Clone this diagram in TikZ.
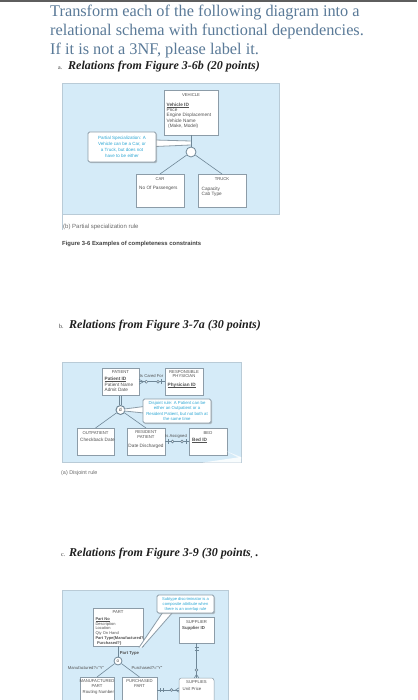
\documentclass[tikz,border=0pt]{standalone}
\usepackage{fontspec}
\setmainfont{Liberation Serif}
\newfontfamily\dsans{Liberation Sans}
\usetikzlibrary{calc,shadows}
\definecolor{titlec}{HTML}{5A7A98}
\definecolor{topbar}{HTML}{5E5E5E}
\definecolor{bgblue}{HTML}{D5EBF8}
\definecolor{bgedge}{HTML}{B9CBD7}
\definecolor{boxedge}{HTML}{8C9CA8}
\definecolor{linec}{HTML}{6F8797}
\definecolor{callc}{HTML}{2BA6D4}
\definecolor{dtext}{HTML}{505050}
\definecolor{captc}{HTML}{6A6A6A}
\newcommand\dfnt{\dsans\fontsize{4.7}{5.4}\selectfont}
\newcommand\efnt{\dsans\fontsize{4.2}{4.8}\selectfont}
\newcommand\cfnt{\dsans\fontsize{4.5}{5.9}\selectfont}
\newcommand\ulx[1]{\setbox0\hbox{#1}\rlap{\vrule width\wd0 height-0.5pt depth0.78pt}\box0}
\tikzset{
  panel/.style={fill=bgblue, draw=bgedge, line width=0.6pt, inner sep=0pt, outer sep=0pt, anchor=north west},
  ent/.style={fill=white, draw=boxedge, line width=0.5pt, inner sep=0pt, outer sep=0pt, anchor=north west},
  assoc/.style={ent, rounded corners=2.5pt},
  callbox/.style={fill=white, draw=boxedge, line width=0.9pt, rounded corners=1.5pt, inner sep=0pt, outer sep=0pt, anchor=north west,
     drop shadow={shadow xshift=1.2pt, shadow yshift=-1.2pt, opacity=0.45}},
  dt/.style={font=\dfnt, text=dtext, inner sep=0pt},
  et/.style={font=\efnt, text=dtext, inner sep=0pt},
  ct/.style={font=\cfnt, text=callc, inner sep=0pt, align=center},
  conn/.style={draw=linec, line width=0.6pt},
  ptr/.style={draw=boxedge, line width=0.8pt},
  circ/.style={circle, fill=white, draw=linec, line width=0.8pt, minimum size=9pt, inner sep=0pt, font=\dfnt, text=dtext},
  titl/.style={font=\fontsize{16.3}{19}\selectfont, text=titlec, inner sep=0pt, anchor=base west},
  head/.style={font=\fontsize{12}{14}\selectfont\bfseries\itshape, text=black!88, inner sep=0pt, anchor=base west},
  hmark/.style={font=\fontsize{6}{7}\selectfont, text=black!80, inner sep=0pt, anchor=base west},
  capt/.style={font=\dsans\fontsize{6}{7}\selectfont, text=captc, inner sep=0pt, anchor=base west},
}
\begin{document}
\begin{tikzpicture}[x=1pt,y=-1pt]
\useasboundingbox (0,0) rectangle (417,700);
\fill[white] (0,0) rectangle (417,700);
\begin{scope}
\clip (0,0) rectangle (417,700);
\fill[topbar] (0,0) rectangle (417,2.2);

% ---------- title ----------
\node[titl] (t1) at (50,17) {Transform each of the following diagram into a};
\node[titl] (t2) at (50,36) {relational schema with functional dependencies.};
\node[titl] (t3) at (50,55) {If it is not a 3NF, please label it.};

% ---------- a ----------
\node[hmark] (ma) at (58,70) {a.};
\node[head] (ha) at (68,70) {Relations from Figure 3-6b (20 points)};

\node[panel, minimum width=217pt, minimum height=131pt] (p1) at (62,83) {};
\node[ent, minimum width=54pt, minimum height=45pt] (veh) at (164,90) {};
\node[et] (vehT) at (191,95) {VEHICLE};
\node[dt, anchor=north west, align=left] (vehA) at (166.5,102.5)
  {\textbf{\ulx{Vehicle ID}}\\Price\\Engine Displacement\\Vehicle Name\\\hspace*{1.5pt}(Make, Model)};

\node[ent, minimum width=48pt, minimum height=33pt] (car) at (136,174) {};
\node[et] (carT) at (160,179) {CAR};
\node[dt, anchor=west] (carA) at (139,188.5) {No Of Passengers};
\node[ent, minimum width=48pt, minimum height=33pt] (trk) at (198,174) {};
\node[et] (trkT) at (222,179) {TRUCK};
\node[dt, anchor=north west, align=left] (trkA) at (201.5,186.5) {Capacity\\Cab Type};

\node[circ, minimum size=10pt] (c1) at (191,152) {};
\draw[conn] (veh.south) -- (c1.north);
\draw[conn] (c1) -- (car.north);
\draw[conn] (c1) -- (trk.north);

\fill[white] (155,140) -- (190.6,141) -- (190.6,145) -- (155,146.5) -- cycle;
\draw[ptr] (155,140) -- (190.6,141) (155,146.5) -- (190.6,145);
\node[callbox, minimum width=68pt, minimum height=30pt] (cal1) at (88,132) {};
\node[ct] (cal1T) at (cal1.center) {Partial Specialization: A\\Vehicle can be a Car, or\\a Truck, but does not\\have to be either};

\draw[draw=bgedge, line width=0.5pt] (p1.south west) -- ++(0,16);
\node[capt] (capa) at (63,229) {(b) Partial specialization rule};
\node[capt, font=\dsans\bfseries\fontsize{5.9}{7}\selectfont, text=black!75] (figa) at (62,246) {Figure 3-6 Examples of completeness constraints};

% ---------- b ----------
\node[hmark] (mb) at (59,328) {b.};
\node[head] (hb) at (69,328) {Relations from Figure 3-7a (30 points)};

\node[panel, minimum width=179pt, minimum height=100pt] (p2) at (62,362) {};
\node[ent, minimum width=37pt, minimum height=27.5pt] (pat) at (102,368) {};
\node[et] (patT) at (120.5,372.5) {PATIENT};
\node[dt, anchor=north west, align=left] (patA) at (104.5,377.3) {\textbf{\ulx{Patient ID}}\\Patient Name\\Admit Date};
\node[ent, minimum width=38pt, minimum height=27.5pt] (phy) at (165,368) {};
\node[et, align=center, anchor=north] (phyT) at (184,370) {RESPONSIBLE\\PHYSICIAN};
\node[dt, anchor=west] (phyA) at (167.5,385) {\textbf{\ulx{Physician ID}}};

\draw[conn] (pat.east) -- (phy.west);
\node[et] (lcf) at (151.5,376) {Is Cared For};
\draw[conn] (143.5,381.75) -- (139,379.3) (143.5,381.75) -- (139,384.2);
\draw[conn, fill=white] (146.3,381.75) circle (1.4pt);
\draw[conn, fill=white] (158,381.75) circle (1.4pt);
\draw[conn] (161.5,379.4) -- (161.5,384.1);

\node[ent, minimum width=37pt, minimum height=27pt] (out) at (77,428) {};
\node[et] (outT) at (95.5,433) {OUTPATIENT};
\node[dt, anchor=west] (outA) at (80,440) {Checkback Date};
\node[ent, minimum width=38pt, minimum height=27pt] (res) at (127,428) {};
\node[et, align=center, anchor=north] (resT) at (146,430.5) {RESIDENT\\PATIENT};
\node[dt] (resA) at (146,446) {Date Discharged};
\node[ent, minimum width=38pt, minimum height=27pt] (bed) at (189,428) {};
\node[et] (bedT) at (208,433) {BED};
\node[dt, anchor=west] (bedA) at (192,440) {\textbf{\ulx{Bed ID}}};

\draw[conn] (res.east) -- (bed.west);
\node[et] (lia) at (176,436) {Is Assigned};
\draw[conn] (168.5,439.3) -- (168.5,444);
\draw[conn, fill=white] (172.5,441.5) circle (1.4pt);
\draw[conn, fill=white] (182,441.5) circle (1.4pt);
\draw[conn] (186,439.3) -- (186,444);

\node[circ, line width=1pt, text=black!80] (c2) at (120.5,410) {d};
\draw[conn] ($(pat.south)+(-1.2,0)$) -- ($(c2.north)+(-1.2,0.3)$);
\draw[conn] ($(pat.south)+(1.2,0)$) -- ($(c2.north)+(1.2,0.3)$);
\draw[conn] (c2) -- (out.north);
\draw[conn] (c2) -- (res.north);

\fill[white] (144,406.5) -- (124.5,409) -- (124.5,411) -- (144,413) -- cycle;
\draw[ptr] (144,406.5) -- (124.5,409) (144,413) -- (124.5,411);
\node[callbox, minimum width=68pt, minimum height=24pt] (cal2) at (143,399) {};
\node[ct, font=\dsans\fontsize{4.3}{5.3}\selectfont] (cal2T) at (cal2.center) {Disjoint rule: A Patient can be\\either an Outpatient or a\\Resident Patient, but not both at\\the same time};

\fill[white, opacity=0.85] (203,462.5) -- (241,457) -- (241,462.5) -- cycle;
\fill[white, opacity=0.7] (226,451) -- (241,457) -- (241,459) -- cycle;

\node[capt, font=\dsans\fontsize{5.4}{6}\selectfont] (capb) at (61,474) {(a) Disjoint rule};

% ---------- c ----------
\node[hmark] (mc) at (61,556) {c.};
\node[head] (hc) at (69,556) {Relations from Figure 3-9 (30 points\raisebox{-1.5pt}{\fontsize{7}{8}\selectfont ,} .};

\node[panel, minimum width=166pt, minimum height=140pt] (p3) at (62,590) {};
\node[ent, minimum width=50pt, minimum height=38pt] (part) at (93,608) {};
\node[et] (partT) at (118,612.5) {PART};
\node[dt, anchor=north west, align=left, font=\dsans\fontsize{4.0}{4.75}\selectfont] (partA) at (95.3,617.3)
  {\textbf{\ulx{Part No}}\\Description\\Location\\Qty On Hand\\\textbf{Part Type\{Manufactured?,}\\\hspace*{1.5pt}\textbf{Purchased?\}}};

\node[ent, minimum width=35pt, minimum height=26pt] (sup) at (179,617) {};
\node[et] (supT) at (196.5,622) {SUPPLIER};
\node[dt, anchor=west, font=\dsans\fontsize{4.3}{5}\selectfont] (supA) at (182,628) {\textbf{Supplier ID}};

\node[circ, minimum size=8pt] (c3) at (118,661) {o};
\draw[conn] (part.south) -- (c3.north);
\node[dt, font=\dsans\bfseries\fontsize{4.3}{5}\selectfont] (lpt) at (129.5,653) {Part Type};
\node[et] (lman) at (86,668) {Manufactured?="Y"};
\node[et] (lpur) at (147,668) {Purchased?="Y"};

\node[ent, minimum width=34pt, minimum height=30pt] (man) at (80,677) {};
\node[et, align=center, anchor=north] (manT) at (97,679.5) {MANUFACTURED\\PART};
\node[dt, anchor=west, font=\dsans\fontsize{4.3}{5}\selectfont] (manA) at (82.5,692) {Routing Number};
\node[ent, minimum width=35pt, minimum height=30pt] (pur) at (122,677) {};
\node[et, align=center, anchor=north] (purT) at (139.5,679.5) {PURCHASED\\PART};
\node[assoc, minimum width=35pt, minimum height=30pt] (sups) at (179,678) {};
\node[et] (supsT) at (196.5,682.5) {SUPPLIES};
\node[dt, anchor=west, font=\dsans\fontsize{4.3}{5}\selectfont] (supsA) at (182.5,688.5) {Unit Price};

\draw[conn] (c3) -- (man.north);
\draw[conn] (c3) -- (pur.north);

\draw[conn] (sup.south) -- (sups.north);
\draw[conn] (194.5,647) -- (198.5,647) (194.5,650) -- (198.5,650);
\draw[conn, fill=white] (196.5,670) circle (1.4pt);
\draw[conn] (196.5,674.5) -- (194.2,678) (196.5,674.5) -- (198.8,678);

\draw[conn] ($(pur.north east)+(0,13)$) -- ($(sups.north west)+(0,12)$);
\draw[conn] (160,688) -- (160,692) (163,688) -- (163,692);
\draw[conn, fill=white] (171.5,690) circle (1.4pt);
\draw[conn] (175.5,690) -- (179,687.8) (175.5,690) -- (179,692.2);

\fill[white] (163,612) -- (139,647.5) -- (142,647.5) -- (173,612) -- cycle;
\draw[ptr] (163,612) -- (139,647.5) (173,612) -- (142,647.5);
\node[callbox, minimum width=57pt, minimum height=18pt] (cal3) at (157,595) {};
\node[ct, font=\dsans\fontsize{4.1}{5}\selectfont] (cal3T) at (cal3.center) {Subtype discriminator is a\\composite attribute when\\there is an overlap rule};
\end{scope}
\end{tikzpicture}
\end{document}
